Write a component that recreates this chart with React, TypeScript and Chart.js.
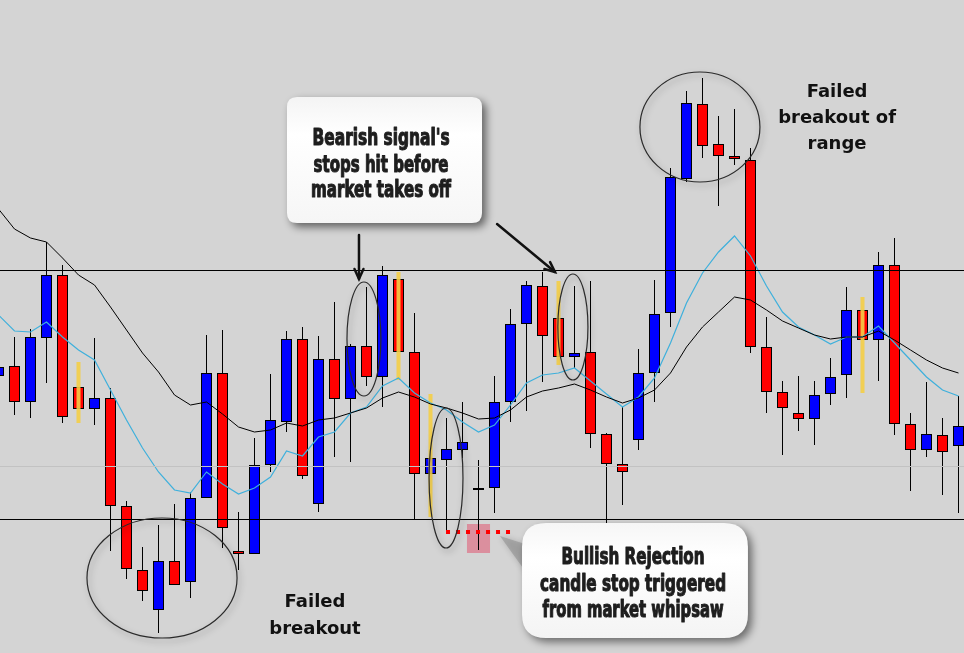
import React, { useEffect, useRef } from "react";
import { Chart, registerables } from "chart.js";

Chart.register(...registerables);

// ---- Data (price units) ----
const opens = [277,287,251,315,378,266,244,255,147,83,43,92,71,155,280,102,99,188,231,314,149,294,254,307,276,374,301,179,193,203,163,165,251,329,367,335,296,301,219,189,213,280,340,474,549,509,497,493,306,261,240,234,259,278,343,313,388,229,203,218,207];
const highs = [293,316,324,411,388,291,315,265,152,106,128,149,161,318,323,141,215,279,322,326,317,351,309,366,387,381,340,259,235,251,193,277,344,372,381,372,367,372,220,246,304,373,485,562,575,537,544,505,336,272,277,272,295,366,356,401,415,240,271,235,257];
const lows = [269,238,235,270,230,230,228,102,74,52,20,68,55,155,105,83,99,181,221,174,141,196,191,267,246,273,134,136,122,195,103,140,231,242,271,288,285,205,130,148,203,251,326,471,495,447,488,300,240,198,222,208,248,255,260,272,218,162,196,158,140];
const closes = [286,251,316,378,236,244,255,147,84,62,92,68,155,280,125,99,188,233,314,177,294,254,307,276,378,301,179,195,204,211,165,251,329,368,317,296,300,219,189,181,280,339,476,550,507,497,494,306,261,245,234,258,276,343,313,388,229,203,219,201,227];
const signalBars = [5, 25, 27, 35, 54];
const maSlow = [444,424,415,411,395,378,368,346,323,300,281,258,248,251,239,226,221,223,230,227,233,235,240,245,255,261,256,249,245,240,234,235,243,256,262,265,269,263,256,250,255,263,280,306,326,341,356,353,343,332,325,318,314,316,316,322,313,303,293,285,280];
const maFast = [338,322,321,331,316,303,293,263,233,205,181,163,160,181,169,159,165,176,202,197,216,221,240,246,267,275,260,250,243,231,221,228,248,270,278,280,285,272,259,246,256,275,310,350,380,401,417,397,367,341,326,318,309,316,316,327,310,293,276,263,257];
const resistanceLevel = 382.5;
const supportLevel = 133.5;
const midLevel = 186.5;

// Axis window
const X_MIN = 0.09375;
const X_MAX = 60.34375;
const Y_MIN = 0;
const Y_MAX = 653;

// ---- Annotation layout (in data units) ----
const ellipseNotes = [
  { cx: 10.22, cy: 75, rx: 4.69, ry: 60 },
  { cx: 22.84, cy: 314, rx: 1.06, ry: 57 },
  { cx: 27.97, cy: 175, rx: 1.06, ry: 70 },
  { cx: 35.9, cy: 326, rx: 0.94, ry: 53 },
  { cx: 43.84, cy: 526, rx: 3.75, ry: 55 },
];
const arrowNotes = [
  { x1: 22.53, y1: 418, x2: 22.53, y2: 374 },
  { x1: 31.16, y1: 429, x2: 34.78, y2: 381 },
];
const bearBox = { x1: 18.03, x2: 30.22, top: 556, bottom: 430, cx: 23.91 };
const bearLines = ["Bearish signal's", "stops hit before", "market takes off"];
const bearLineY = [508, 481, 456];
const bearLineW = [137, 135, 140];
const bullBox = { x1: 32.72, x2: 46.84, top: 130, bottom: 15, cx: 39.66, tipX: 31.34, tipY: 117 };
const bullLines = ["Bullish Rejection", "candle stop triggered", "from market whipsaw"];
const bullLineY = [89, 62, 36];
const bullLineW = [143, 186, 181];
const rangeText = ["Failed", "breakout of", "range"];
const rangeTextY = [556, 530, 504];
const rangeTextX = 52.41;
const breakText = ["Failed", "breakout"];
const breakTextY = [46, 19];
const breakTextX = 19.78;
const stopLine = { x1: 27.97, x2: 31.97, y: 121 };
const stopZone = { x1: 29.28, x2: 30.72, top: 129, bottom: 100 };

function roundRectPath(ctx: CanvasRenderingContext2D, x: number, y: number, w: number, h: number, r: number) {
  ctx.beginPath();
  ctx.moveTo(x + r, y);
  ctx.lineTo(x + w - r, y);
  ctx.quadraticCurveTo(x + w, y, x + w, y + r);
  ctx.lineTo(x + w, y + h - r);
  ctx.quadraticCurveTo(x + w, y + h, x + w - r, y + h);
  ctx.lineTo(x + r, y + h);
  ctx.quadraticCurveTo(x, y + h, x, y + h - r);
  ctx.lineTo(x, y + r);
  ctx.quadraticCurveTo(x, y, x + r, y);
  ctx.closePath();
}

const HEAVY_FONT = 'bold 23px "DejaVu Sans Condensed", "Liberation Sans Narrow", "DejaVu Sans", sans-serif';

function heavyText(ctx: CanvasRenderingContext2D, t: string, x: number, y: number, w: number) {
  ctx.fillText(t, x, y, w);
  ctx.strokeText(t, x, y, w);
}

const bgPlugin = {
  id: "bg",
  beforeDraw(chart: any) {
    const ctx = chart.ctx as CanvasRenderingContext2D;
    ctx.save();
    ctx.fillStyle = "#d4d4d4";
    ctx.fillRect(0, 0, chart.width, chart.height);
    ctx.restore();
  },
  beforeDatasetsDraw(chart: any) {
    const ctx = chart.ctx as CanvasRenderingContext2D;
    const X = (v: number) => chart.scales.x.getPixelForValue(v);
    const Y = (v: number) => chart.scales.y.getPixelForValue(v);
    ctx.save();
    ctx.fillStyle = "rgba(222,120,140,0.75)";
    ctx.fillRect(X(stopZone.x1), Y(stopZone.top), X(stopZone.x2) - X(stopZone.x1), Y(stopZone.bottom) - Y(stopZone.top));
    ctx.restore();
  },
};

const notesPlugin = {
  id: "notes",
  afterDatasetsDraw(chart: any) {
    const ctx = chart.ctx as CanvasRenderingContext2D;
    const X = (v: number) => chart.scales.x.getPixelForValue(v);
    const Y = (v: number) => chart.scales.y.getPixelForValue(v);
    ctx.save();

    // red dotted stop line
    ctx.strokeStyle = "#ff0000";
    ctx.lineWidth = 4;
    ctx.setLineDash([4, 6]);
    ctx.beginPath();
    ctx.moveTo(X(stopLine.x1), Y(stopLine.y));
    ctx.lineTo(X(stopLine.x2), Y(stopLine.y));
    ctx.stroke();
    ctx.setLineDash([]);

    // ellipses
    for (const e of ellipseNotes) {
      const cx = X(e.cx), cy = Y(e.cy);
      const rx = Math.abs(X(e.cx + e.rx) - cx), ry = Math.abs(Y(e.cy + e.ry) - cy);
      ctx.save();
      ctx.shadowColor = "rgba(0,0,0,0.35)";
      ctx.shadowBlur = 6;
      ctx.shadowOffsetX = 2;
      ctx.shadowOffsetY = 3;
      ctx.strokeStyle = "#2a2a2a";
      ctx.lineWidth = 1.2;
      ctx.beginPath();
      ctx.ellipse(cx, cy, rx, ry, 0, 0, Math.PI * 2);
      ctx.stroke();
      ctx.restore();
    }

    // arrows
    ctx.strokeStyle = "#111";
    ctx.lineWidth = 2.5;
    ctx.lineCap = "round";
    for (const a of arrowNotes) {
      const x1 = X(a.x1), y1 = Y(a.y1), x2 = X(a.x2), y2 = Y(a.y2);
      ctx.beginPath();
      ctx.moveTo(x1, y1);
      ctx.lineTo(x2, y2);
      ctx.stroke();
      const ang = Math.atan2(y2 - y1, x2 - x1);
      const h = 11, s = 0.42;
      ctx.beginPath();
      ctx.moveTo(x2 - h * Math.cos(ang - s), y2 - h * Math.sin(ang - s));
      ctx.lineTo(x2, y2);
      ctx.lineTo(x2 - h * Math.cos(ang + s), y2 - h * Math.sin(ang + s));
      ctx.stroke();
    }

    // bearish box
    {
      const x = X(bearBox.x1), y = Y(bearBox.top);
      const w = X(bearBox.x2) - x, h = Y(bearBox.bottom) - y;
      ctx.save();
      ctx.shadowColor = "rgba(0,0,0,0.55)";
      ctx.shadowBlur = 9;
      ctx.shadowOffsetX = 4;
      ctx.shadowOffsetY = 4;
      roundRectPath(ctx, x, y, w, h, 10);
      const g = ctx.createLinearGradient(0, y, 0, y + h);
      g.addColorStop(0, "#f4f4f4");
      g.addColorStop(0.3, "#ffffff");
      g.addColorStop(1, "#f6f6f6");
      ctx.fillStyle = g;
      ctx.fill();
      ctx.restore();
      ctx.fillStyle = "#1e1e1e";
      ctx.strokeStyle = "#1e1e1e";
      ctx.lineWidth = 1.1;
      ctx.lineJoin = "round";
      ctx.textAlign = "center";
      ctx.textBaseline = "alphabetic";
      ctx.font = HEAVY_FONT;
      bearLines.forEach((t, i) => heavyText(ctx, t, X(bearBox.cx), Y(bearLineY[i]), bearLineW[i]));
    }

    // bullish speech bubble
    {
      const x = X(bullBox.x1), y = Y(bullBox.top);
      const w = X(bullBox.x2) - x, h = Y(bullBox.bottom) - y;
      ctx.save();
      ctx.fillStyle = "rgba(140,140,140,0.55)";
      ctx.shadowColor = "rgba(0,0,0,0.3)";
      ctx.shadowBlur = 6;
      ctx.beginPath();
      ctx.moveTo(X(bullBox.tipX), Y(bullBox.tipY));
      ctx.lineTo(x + 6, y + 22);
      ctx.lineTo(x + 6, y + 52);
      ctx.closePath();
      ctx.fill();
      ctx.restore();
      ctx.save();
      ctx.shadowColor = "rgba(0,0,0,0.5)";
      ctx.shadowBlur = 9;
      ctx.shadowOffsetX = 4;
      ctx.shadowOffsetY = 4;
      roundRectPath(ctx, x, y, w, h, 24);
      const g = ctx.createLinearGradient(0, y, 0, y + h);
      g.addColorStop(0, "#f6f6f6");
      g.addColorStop(0.3, "#ffffff");
      g.addColorStop(1, "#f4f4f4");
      ctx.fillStyle = g;
      ctx.fill();
      ctx.restore();
      ctx.fillStyle = "#1e1e1e";
      ctx.strokeStyle = "#1e1e1e";
      ctx.lineWidth = 1.1;
      ctx.lineJoin = "round";
      ctx.textAlign = "center";
      ctx.font = HEAVY_FONT;
      bullLines.forEach((t, i) => heavyText(ctx, t, X(bullBox.cx), Y(bullLineY[i]), bullLineW[i]));
    }

    // free texts
    ctx.fillStyle = "#111";
    ctx.textAlign = "center";
    ctx.font = 'bold 18px "DejaVu Sans", sans-serif';
    rangeText.forEach((t, i) => ctx.fillText(t, X(rangeTextX), Y(rangeTextY[i])));
    breakText.forEach((t, i) => ctx.fillText(t, X(breakTextX), Y(breakTextY[i])));

    ctx.restore();
  },
};

export default function App() {
  const ref = useRef<HTMLCanvasElement>(null);
  useEffect(() => {
    const idx = opens.map((_, i) => i);
    const wickData = idx.filter((i) => !signalBars.includes(i)).map((i) => ({ x: i, y: [lows[i], highs[i]] }));
    const signalData = signalBars.map((i) => ({ x: i, y: [lows[i], highs[i]] }));
    const bodyData = idx.map((i) => ({ x: i, y: [opens[i], closes[i]] }));
    const bodyColors = idx.map((i) => (closes[i] >= opens[i] ? "#0000ff" : "#ff0000"));
    const levelLine = (v: number) => [{ x: -1, y: v }, { x: idx.length + 1, y: v }];

    const chart = new Chart(ref.current as HTMLCanvasElement, {
      type: "bar",
      data: {
        datasets: [
          { type: "line", label: "mid", data: levelLine(midLevel), borderColor: "#c2c2c2", borderWidth: 1, pointRadius: 0, order: 0 } as any,
          { type: "line", label: "resistance", data: levelLine(resistanceLevel), borderColor: "#000", borderWidth: 1, pointRadius: 0, order: 0 } as any,
          { type: "line", label: "support", data: levelLine(supportLevel), borderColor: "#000", borderWidth: 1, pointRadius: 0, order: 0 } as any,
          { type: "line", label: "MA slow", data: idx.map((i) => ({ x: i, y: maSlow[i] })), borderColor: "#000", borderWidth: 1, pointRadius: 0, tension: 0, order: 1 } as any,
          { type: "line", label: "MA fast", data: idx.map((i) => ({ x: i, y: maFast[i] })), borderColor: "#3eb0dc", borderWidth: 1.2, pointRadius: 0, tension: 0, order: 1 } as any,
          { type: "bar", label: "signal", data: signalData, backgroundColor: "rgba(244,206,70,0.9)", borderWidth: 0, barThickness: 4, grouped: false, inflateAmount: 0, order: 2 } as any,
          { type: "bar", label: "body", data: bodyData, backgroundColor: bodyColors, borderColor: "#000", borderWidth: 1, borderSkipped: false, barThickness: 11, grouped: false, inflateAmount: 0, order: 3 } as any,
          { type: "bar", label: "wick", data: wickData, backgroundColor: "#000", borderWidth: 0, barThickness: 1, grouped: false, inflateAmount: 0, order: 4 } as any,
        ],
      },
      options: {
        responsive: false,
        animation: false,
        layout: { padding: 0 },
        plugins: { legend: { display: false }, tooltip: { enabled: false } },
        scales: {
          x: { type: "linear", min: X_MIN, max: X_MAX, display: false, offset: false },
          y: { type: "linear", min: Y_MIN, max: Y_MAX, display: false },
        },
      } as any,
      plugins: [bgPlugin, notesPlugin],
    });
    return () => chart.destroy();
  }, []);

  return (
    <div style={{ position: "fixed", left: 0, top: 0, width: 964, height: 653, background: "#d4d4d4" }}>
      <canvas ref={ref} width={964} height={653} style={{ display: "block", width: 964, height: 653 }} />
    </div>
  );
}
